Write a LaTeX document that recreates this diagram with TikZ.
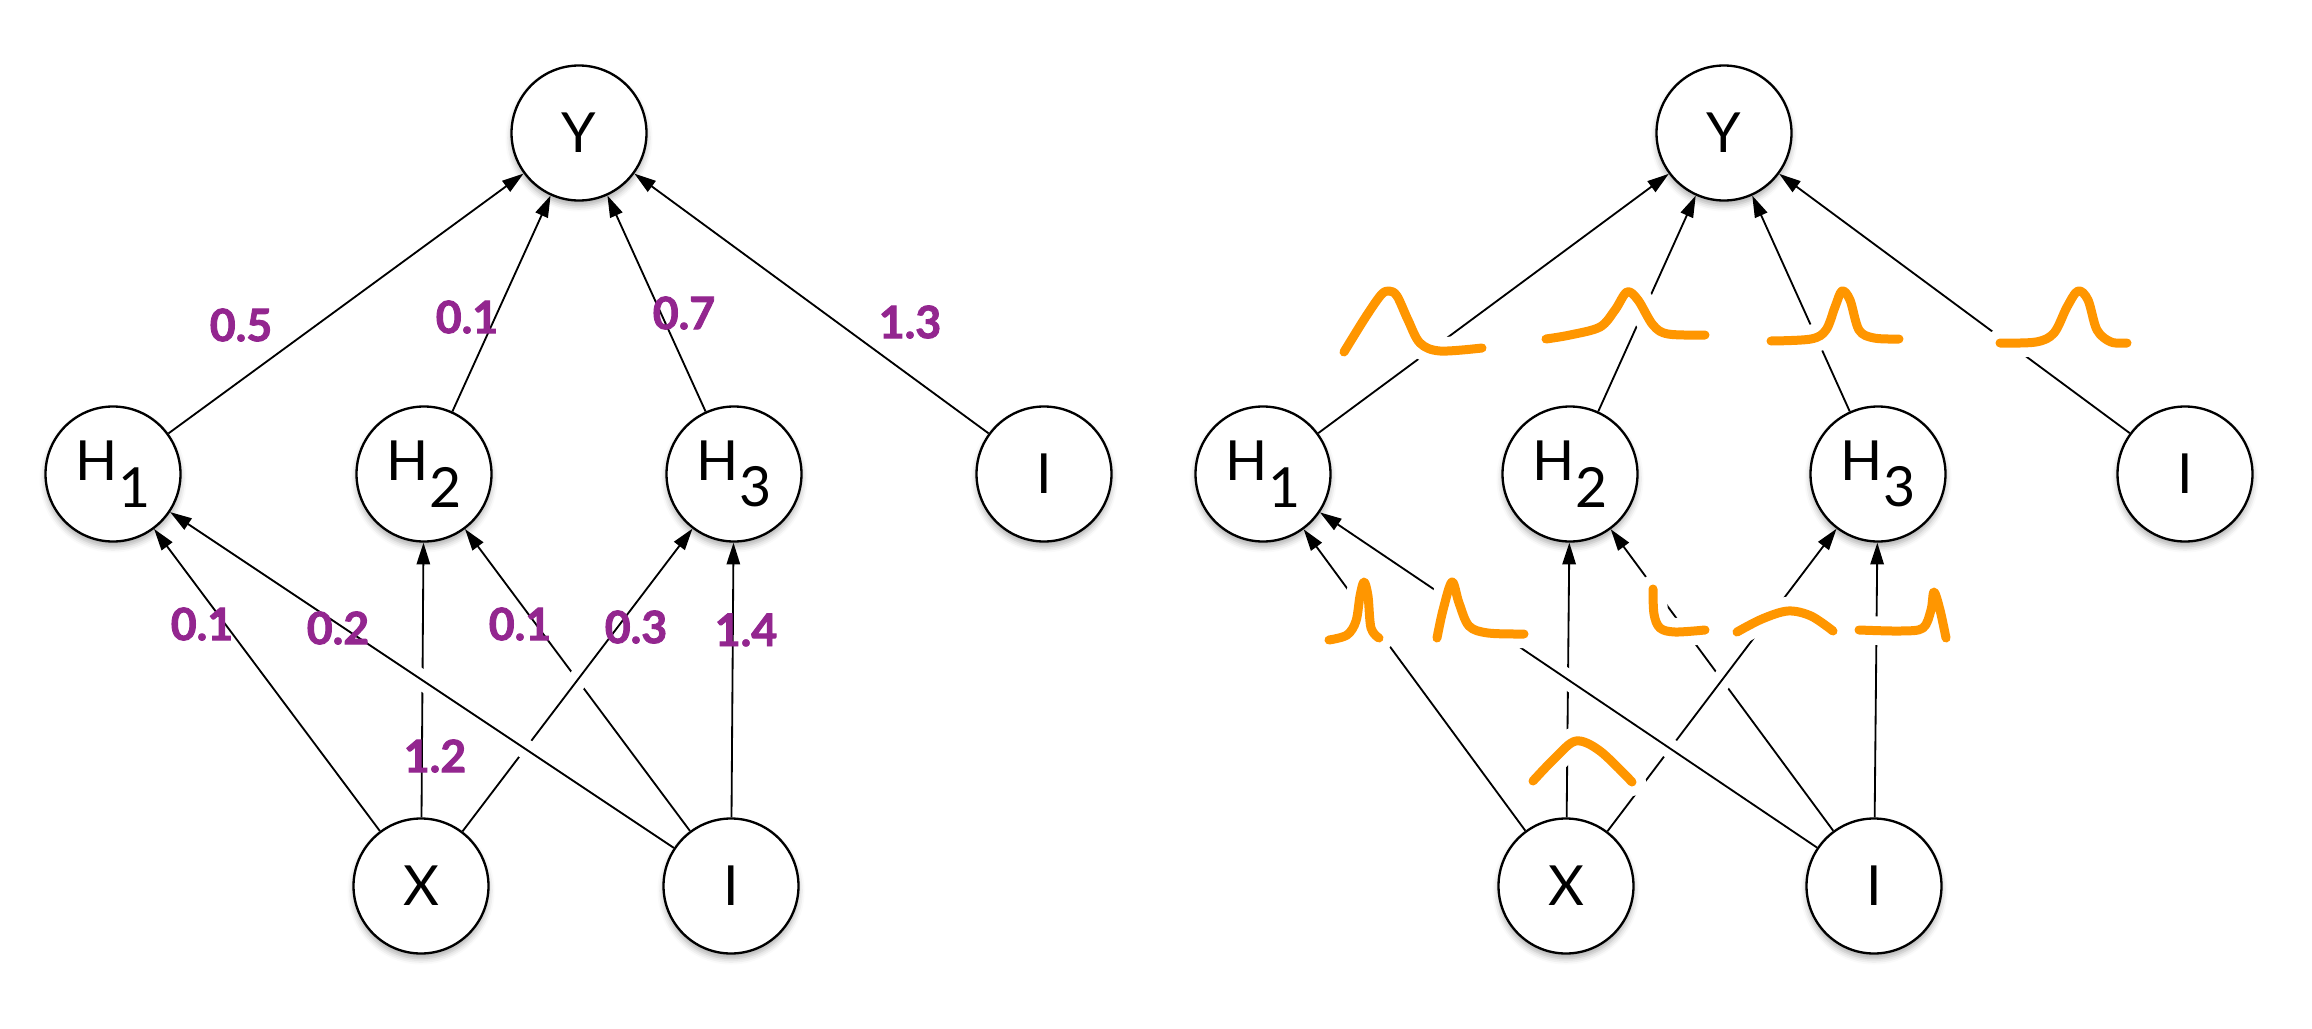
\documentclass[tikz,border=0pt]{standalone}
\usepackage{fontspec}
\setmainfont{Lato}
\newfontfamily\wtfont[BoldFeatures={FakeBold=2}]{Lato}
\usetikzlibrary{arrows.meta,shadows.blur}
\definecolor{wpurple}{RGB}{147,38,143}
\definecolor{gorange}{RGB}{255,150,0}
\newcommand\Hsub[1]{H\kern0.2pt\raisebox{-8pt}{#1}}
\begin{document}
\begin{tikzpicture}[x=0.3pt,y=-0.3pt,
  nd/.style={circle,draw=black,line width=0.7pt,fill=white,minimum size=40.5pt,inner sep=0pt,
    font=\fontsize{16.6}{18}\selectfont,
    blur shadow={shadow xshift=0pt,shadow yshift=-1.5pt,shadow blur radius=1.8pt,shadow opacity=32}},
  edgeln/.style={line width=0.55pt,-{Triangle[length=6.5pt,width=4pt]}},
  bridge/.style={edgeln,preaction={draw=white,-,line width=6pt,shorten <=25pt,shorten >=25pt}},
  wt/.style={font=\wtfont\fontsize{13.4}{14}\bfseries\selectfont,text=wpurple,inner sep=0pt},
  gauss/.style={draw=gorange,line width=2.7pt,line cap=round,line join=round,
    preaction={draw=white,line width=8.5pt,line cap=round,line join=round}},
]
\useasboundingbox (0,0) rectangle (2312,1029);

% ---------- left panel ----------
\node[nd] (Ya)  at (579,133) {Y};
\node[nd] (H1a) at (113,474) {\Hsub{1}};
\node[nd] (H2a) at (424,474) {\Hsub{2}};
\node[nd] (H3a) at (734,474) {\Hsub{3}};
\node[nd] (Ia)  at (1044,474) {I};
\node[nd] (Xa)  at (421,886) {X};
\node[nd] (Ba)  at (731,886) {I};

\draw[edgeln] (H1a) -- (Ya);
\draw[edgeln] (H2a) -- (Ya);
\draw[edgeln] (H3a) -- (Ya);
\draw[edgeln] (Ia) -- (Ya);
\draw[edgeln] (Xa) -- (H1a);
\draw[edgeln] (Xa) -- (H2a);
\draw[edgeln] (Ba) -- (H2a);
\draw[edgeln] (Ba) -- (H3a);
\draw[bridge] (Xa) -- (H3a);
\draw[bridge] (Ba) -- (H1a);

\node[wt] (w1) at (241,325) {0.5};
\node[wt] (w2) at (467,317) {0.1};
\node[wt] (w3) at (684,313) {0.7};
\node[wt] (w4) at (910,322) {1.3};
\node[wt] (w5) at (202,624) {0.1};
\node[wt] (w6) at (338,628) {0.2};
\node[wt] (w7) at (520,624) {0.1};
\node[wt] (w8) at (636,627) {0.3};
\node[wt] (w9) at (746,630) {1.4};
\node[wt] (w10) at (435,756) {1.2};

% ---------- right panel ----------
\node[nd] (Yb)  at (1724,133) {Y};
\node[nd] (H1b) at (1263,474) {\Hsub{1}};
\node[nd] (H2b) at (1570,474) {\Hsub{2}};
\node[nd] (H3b) at (1878,474) {\Hsub{3}};
\node[nd] (Ib)  at (2185,474) {I};
\node[nd] (Xb)  at (1566,886) {X};
\node[nd] (Bb)  at (1874,886) {I};

\draw[edgeln] (H1b) -- (Yb);
\draw[edgeln] (H2b) -- (Yb);
\draw[edgeln] (H3b) -- (Yb);
\draw[edgeln] (Ib) -- (Yb);
\draw[edgeln] (Xb) -- (H1b);
\draw[edgeln] (Xb) -- (H2b);
\draw[edgeln] (Bb) -- (H2b);
\draw[edgeln] (Bb) -- (H3b);
\draw[bridge] (Xb) -- (H3b);
\draw[bridge] (Bb) -- (H1b);

% distributions on the upper weights
\draw[gauss] plot[smooth,tension=0.55] coordinates {(1344,352) (1365,318) (1381,295) (1389,291) (1397,296) (1408,320) (1420,343) (1440,351) (1482,348)};
\draw[gauss] plot[smooth,tension=0.55] coordinates {(1546,339) (1570,335) (1600,327) (1615,310) (1627,292) (1638,300) (1653,325) (1668,334) (1705,335)};
\draw[gauss] plot[smooth,tension=0.55] coordinates {(1771,341) (1811,339) (1826,330) (1835,307) (1842,291) (1850,300) (1859,330) (1874,338) (1899,339)};
\draw[gauss] plot[smooth,tension=0.55] coordinates {(2000,343) (2036,342) (2054,333) (2067,307) (2078,291) (2088,300) (2097,330) (2111,342) (2127,343)};
% distributions on the lower weights
\draw[gauss] plot[smooth,tension=0.55] coordinates {(1329,640) (1347,635) (1356,621) (1360,596) (1364,582) (1368,596) (1371,628) (1379,638)};
\draw[gauss] plot[smooth,tension=0.55] coordinates {(1437,638) (1443,610) (1452,582) (1459,603) (1469,626) (1488,633) (1524,634)};
\draw[gauss] plot[smooth,tension=0.55] coordinates {(1653,589) (1654,614) (1660,628) (1675,632) (1705,630)};
\draw[gauss] plot[smooth,tension=0.55] coordinates {(1737,632) (1762,619) (1788,611) (1811,616) (1833,631)};
\draw[gauss] plot[smooth,tension=0.55] coordinates {(1859,630) (1901,631) (1923,628) (1931,610) (1934,592) (1940,610) (1946,638)};
\draw[gauss] plot[smooth,tension=0.55] coordinates {(1533,781) (1555,758) (1576,741) (1600,751) (1632,782)};
\end{tikzpicture}
\end{document}
